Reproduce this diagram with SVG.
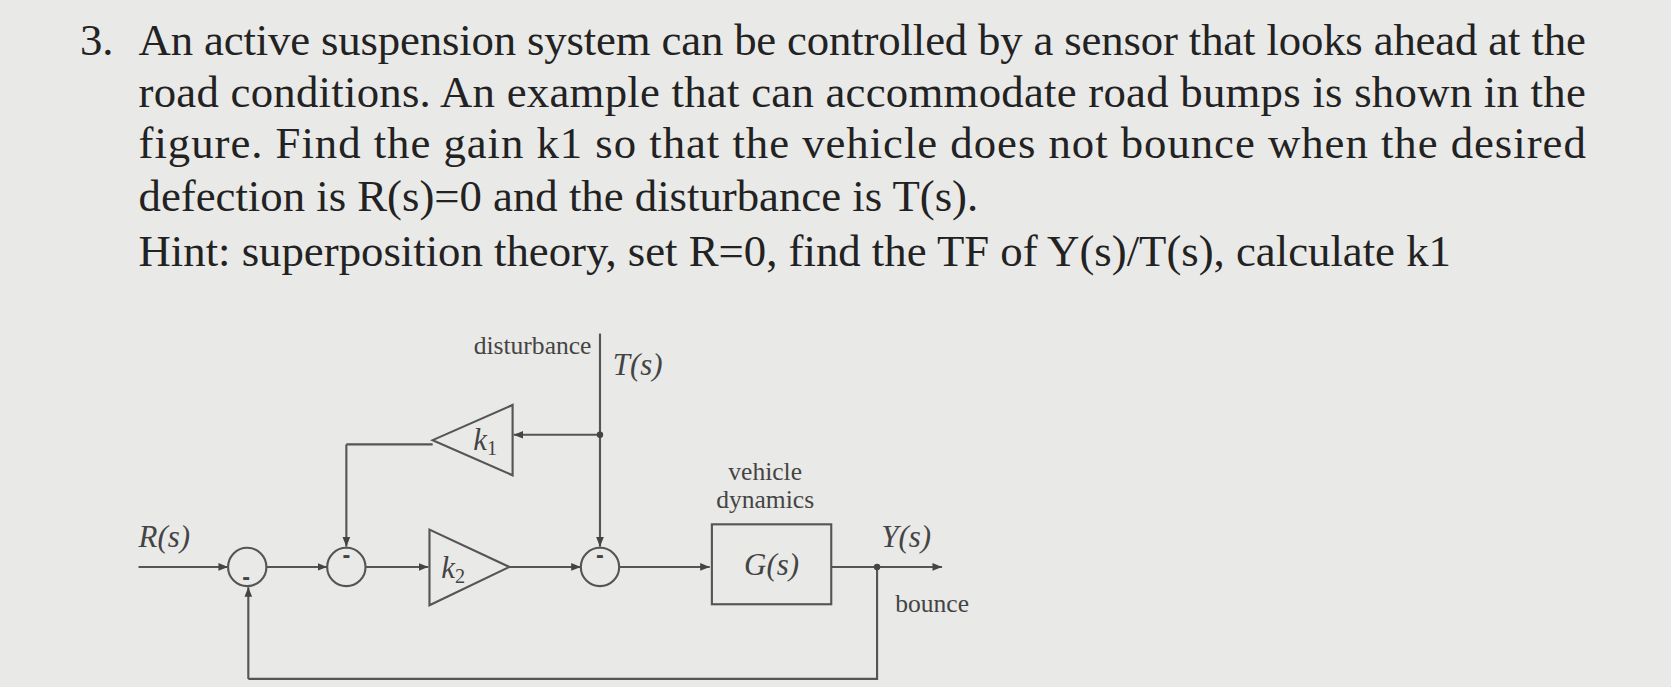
<svg xmlns="http://www.w3.org/2000/svg" width="1671" height="687" viewBox="0 0 1671 687">
<defs>
<marker id="ah" viewBox="0 0 10 10" refX="10" refY="5" markerWidth="9" markerHeight="9" markerUnits="userSpaceOnUse" orient="auto"><path d="M0,1 L10,5 L0,9 z" fill="#444"/></marker>
</defs>
<style>
.q{font-family:"Liberation Serif",serif;font-size:42px;fill:#222}
.l{font-family:"Liberation Serif",serif;font-size:24px;fill:#444}
.m{font-family:"Liberation Serif",serif;font-size:29px;font-style:italic;fill:#444}
.n{font-family:"Liberation Sans",sans-serif;font-size:22px;font-weight:bold;fill:#444}
.s{fill:none;stroke:#555;stroke-width:2}
.w{fill:none;stroke:#555;stroke-width:2;marker-end:url(#ah)}
</style>
<rect width="1671" height="687" fill="#e9e9e7"/>
<g transform="scale(1.0657)">
<g id="question">
<text class="q" x="75" y="52">3.</text>
<text class="q" x="130" y="52" textLength="1358" lengthAdjust="spacing">An active suspension system can be controlled by a sensor that looks ahead at the</text>
<text class="q" x="130" y="100" textLength="1358" lengthAdjust="spacing">road conditions. An example that can accommodate road bumps is shown in the</text>
<text class="q" x="130" y="148" textLength="1358" lengthAdjust="spacing">figure. Find the gain k1 so that the vehicle does not bounce when the desired</text>
<text class="q" x="130" y="198">defection is R(s)=0 and the disturbance is T(s).</text>
<text class="q" x="130" y="250">Hint: superposition theory, set R=0, find the TF of Y(s)/T(s), calculate k1</text>
</g>
<g id="connectors">
<path class="w" d="M130,532 H214"/>
<path class="w" d="M250,532 H307"/>
<path class="w" d="M343,532 H402"/>
<path class="w" d="M478,532 H545"/>
<path class="w" d="M581,532 H666"/>
<path class="w" d="M780,532 H884"/>
<path class="s" d="M823,532 V637 H233"/>
<path class="w" d="M233,637 V551"/>
<path class="s" d="M563,313 V408"/>
<path class="w" d="M563,408 H482"/>
<path class="w" d="M563,408 V513"/>
<path class="s" d="M406,417 H325"/>
<path class="w" d="M325,417 V513"/>
<circle cx="563" cy="408" r="3" fill="#444"/>
<circle cx="823" cy="532" r="3" fill="#444"/>
</g>
<g id="sum1"><circle class="s" cx="232" cy="532" r="18"/><text class="n" x="231" y="549" text-anchor="middle">-</text></g>
<g id="sum2"><circle class="s" cx="325" cy="532" r="18"/><text class="n" x="325" y="528" text-anchor="middle">-</text></g>
<g id="sum3"><circle class="s" cx="563" cy="532" r="18"/><text class="n" x="563" y="528" text-anchor="middle">-</text></g>
<g id="k1"><path class="s" d="M481,380 L481,446 L406,413 Z"/><text class="m" x="444" y="422">k<tspan font-size="19" dy="5" font-style="normal">1</tspan></text></g>
<g id="k2"><path class="s" d="M403,497 L403,568 L478,532 Z"/><text class="m" x="414" y="542">k<tspan font-size="19" dy="5" font-style="normal">2</tspan></text></g>
<g id="G"><rect class="s" x="668" y="492" width="112" height="75"/><text class="m" x="724" y="540" text-anchor="middle">G(s)</text></g>
<g id="labels">
<text class="m" x="130" y="513">R(s)</text>
<text class="m" x="575" y="352">T(s)</text>
<text class="m" x="827" y="513">Y(s)</text>
<text class="l" x="555" y="332" text-anchor="end">disturbance</text>
<text class="l" x="718" y="450" text-anchor="middle">vehicle</text>
<text class="l" x="718" y="477" text-anchor="middle">dynamics</text>
<text class="l" x="840" y="574">bounce</text>
</g>
</g>
</svg>
